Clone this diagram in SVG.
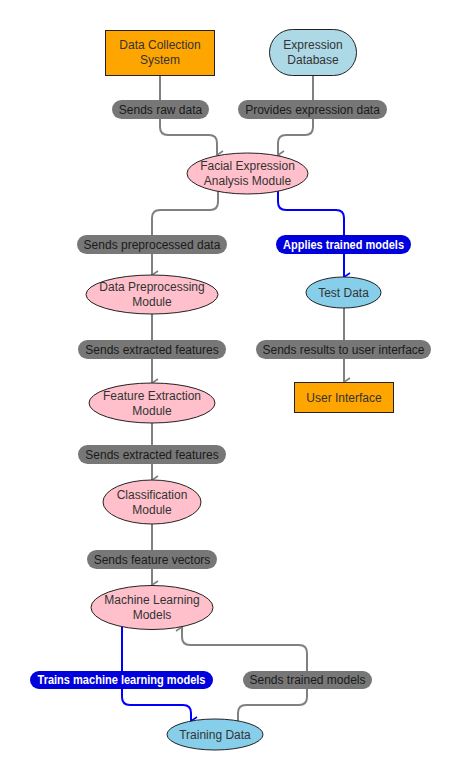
<svg xmlns="http://www.w3.org/2000/svg" width="462" height="780" viewBox="0 0 462 780">
<style>
text{font-family:"Liberation Sans",Arial,sans-serif;font-size:12px;text-anchor:middle;dominant-baseline:central}
.node{fill:#333}
.edge{fill:none;stroke:#808080;stroke-width:2}
.blue{fill:none;stroke:#0000FF;stroke-width:2}
.pill{fill:#777}
.pillb{fill:#0000DD}
.lt{fill:#1a1a1a}
.lb{fill:#fff;font-weight:bold}
.shape{stroke:#222;stroke-width:1}
</style>
<defs>
<marker id="ag" viewBox="0 0 10 10" refX="5" refY="9" markerWidth="10" markerHeight="10" markerUnits="userSpaceOnUse" orient="auto-start-reverse">
<polyline points="1,3 5,9 9,3" fill="none" stroke="#808080" stroke-width="1.6"/>
</marker>
<marker id="ab" viewBox="0 0 10 10" refX="5" refY="9" markerWidth="10" markerHeight="10" markerUnits="userSpaceOnUse" orient="auto-start-reverse">
<polyline points="1,3 5,9 9,3" fill="none" stroke="#0000FF" stroke-width="1.6"/>
</marker>
</defs>
<rect width="462" height="780" fill="#fff"/>
<g id="connectors">
<path class="edge" d="M160 75 V127 Q160 135 168 135 H209 Q217 135 217 143 V155" marker-end="url(#ag)"/>
<path class="edge" d="M313 75 V127 Q313 135 305 135 H286 Q278 135 278 143 V155" marker-end="url(#ag)"/>
<path class="edge" d="M218 191 V202 Q218 210 210 210 H160 Q152 210 152 218 V275" marker-end="url(#ag)"/>
<path class="blue" d="M278 191 V202 Q278 210 286 210 H336 Q344 210 344 218 V277" marker-end="url(#ab)"/>
<path class="edge" d="M152 314 V383" marker-end="url(#ag)"/>
<path class="edge" d="M344 308 V382" marker-end="url(#ag)"/>
<path class="edge" d="M152 423 V480" marker-end="url(#ag)"/>
<path class="edge" d="M152 524 V585" marker-end="url(#ag)"/>
<path class="blue" d="M122 627 V697 Q122 705 130 705 H183 Q191 705 191 713 V721" marker-end="url(#ab)"/>
<path class="edge" d="M238 721 V713 Q238 705 246 705 H299 Q307 705 307 697 V653 Q307 645 299 645 H190 Q182 645 182 637 V627" marker-end="url(#ag)"/>
<g id="labels">
<rect class="pill" x="112" y="100" width="97" height="19" rx="9.5"/>
<text class="lt" x="160.5" y="109.5">Sends raw data</text>
<rect class="pill" x="238" y="100" width="149" height="19" rx="9.5"/>
<text class="lt" x="312.5" y="109.5">Provides expression data</text>
<rect class="pill" x="77" y="235" width="150" height="19" rx="9.5"/>
<text class="lt" x="152" y="244.5">Sends preprocessed data</text>
<rect class="pillb" x="276" y="235" width="135" height="19" rx="9.5"/>
<text class="lb" x="343.5" y="244.5" textLength="121" lengthAdjust="spacingAndGlyphs">Applies trained models</text>
<rect class="pill" x="78" y="340" width="148" height="19" rx="9.5"/>
<text class="lt" x="152" y="349.5">Sends extracted features</text>
<rect class="pill" x="256" y="340" width="175" height="19" rx="9.5"/>
<text class="lt" x="343.5" y="349.5">Sends results to user interface</text>
<rect class="pill" x="78" y="445" width="148" height="19" rx="9.5"/>
<text class="lt" x="152" y="454.5">Sends extracted features</text>
<rect class="pill" x="87" y="550" width="130" height="19" rx="9.5"/>
<text class="lt" x="152" y="559.5">Sends feature vectors</text>
<rect class="pillb" x="30" y="671" width="183" height="18" rx="9"/>
<text class="lb" x="121.5" y="680" textLength="168" lengthAdjust="spacingAndGlyphs">Trains machine learning models</text>
<rect class="pill" x="243" y="671" width="129" height="18" rx="9"/>
<text class="lt" x="307.5" y="680">Sends trained models</text>
</g>
</g>
<g id="data-collection-system">
<rect class="shape" x="105.5" y="30.5" width="109" height="45" fill="#FFA500"/>
<text class="node" x="160" y="45">Data Collection</text>
<text class="node" x="160" y="60">System</text>
</g>
<g id="expression-database">
<rect class="shape" x="269.5" y="29.5" width="87" height="46" rx="23" fill="#ADD8E6"/>
<text class="node" x="313" y="45">Expression</text>
<text class="node" x="313" y="60">Database</text>
</g>
<g id="facial-expression-analysis-module">
<ellipse class="shape" cx="247.5" cy="173.5" rx="60.5" ry="20.5" fill="#FFC0CB"/>
<text class="node" x="247.5" y="166">Facial Expression</text>
<text class="node" x="247.5" y="181">Analysis Module</text>
</g>
<g id="data-preprocessing-module">
<ellipse class="shape" cx="152" cy="294.5" rx="66" ry="19.5" fill="#FFC0CB"/>
<text class="node" x="152" y="287">Data Preprocessing</text>
<text class="node" x="152" y="302">Module</text>
</g>
<g id="test-data">
<ellipse class="shape" cx="343.5" cy="292.5" rx="37.5" ry="15.5" fill="#87CEEB"/>
<text class="node" x="343.5" y="292.5">Test Data</text>
</g>
<g id="feature-extraction-module">
<ellipse class="shape" cx="152" cy="403" rx="63" ry="20" fill="#FFC0CB"/>
<text class="node" x="152" y="395.5">Feature Extraction</text>
<text class="node" x="152" y="410.5">Module</text>
</g>
<g id="user-interface">
<rect class="shape" x="294.5" y="382.5" width="99" height="30" fill="#FFA500"/>
<text class="node" x="344" y="397.5">User Interface</text>
</g>
<g id="classification-module">
<ellipse class="shape" cx="152" cy="502" rx="49" ry="22" fill="#FFC0CB"/>
<text class="node" x="152" y="494.5">Classification</text>
<text class="node" x="152" y="509.5">Module</text>
</g>
<g id="machine-learning-models">
<ellipse class="shape" cx="152" cy="607.5" rx="61" ry="22" fill="#FFC0CB"/>
<text class="node" x="152" y="600">Machine Learning</text>
<text class="node" x="152" y="615">Models</text>
</g>
<g id="training-data">
<ellipse class="shape" cx="215" cy="734.5" rx="48" ry="15.5" fill="#87CEEB"/>
<text class="node" x="215" y="734.5">Training Data</text>
</g>
</svg>
